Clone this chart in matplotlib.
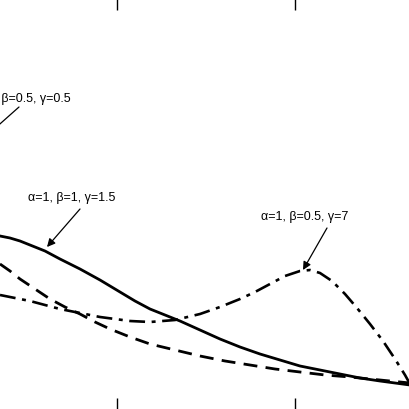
import matplotlib
matplotlib.use("Agg")
import matplotlib.pyplot as plt

solid_x = [0, 10, 20, 30, 45, 60, 80, 100, 120, 135, 150, 165, 180, 200, 220, 240, 260, 280, 300, 320, 340, 360, 380, 395, 410]
solid_y = [237, 239, 242, 246, 252, 260, 270, 281, 293, 302, 310, 316, 322, 331, 340, 348, 355, 361, 367, 371, 375, 379, 382, 384, 386]
dash_x = [0, 10, 20, 35, 50, 65, 80, 95, 110, 130, 150, 175, 200, 225, 250, 275, 300, 325, 350, 370, 390, 410]
dash_y = [265, 272, 280, 290, 300, 308, 315, 323, 330, 338, 345, 351, 357, 362, 366, 370, 373, 376, 378, 380, 382, 384]
dd_x = [0, 30, 60, 100, 130, 150, 175, 200, 220, 240, 255, 270, 285, 300, 310, 320, 332, 345, 357, 370, 383, 395, 405, 410]
dd_y = [296, 302, 310, 318, 322, 323, 321, 315, 308, 300, 293, 285, 277, 272, 271, 274, 282, 295, 309, 325, 342, 360, 376, 385]
tick_pos = [117, 295]

plt.rcParams['font.family'] = ['Liberation Sans', 'DejaVu Sans']
fig = plt.figure(figsize=(4.1, 4.1), dpi=100)
ax = fig.add_axes([0, 0, 1, 1])
ax.set_xlim(0, 410)
ax.set_ylim(410, 0)
ax.plot(solid_x, solid_y, color='black', lw=2.0, ls='-')
ax.plot(dash_x, dash_y, color='black', lw=2.0, ls=(0, (5, 3)))
ax.plot(dd_x, dd_y, color='black', lw=1.9, ls=(0, (6, 2.5, 1.5, 2.5)))

for s in ax.spines.values():
    s.set_visible(False)
ax.set_xticks(tick_pos)
ax.set_yticks([])
ax.tick_params(axis='x', direction='in', top=True, bottom=True,
               labelbottom=False, labeltop=False, length=8, width=1)

ap = dict(arrowstyle='-|>', color='black', lw=0.9, mutation_scale=12,
          shrinkA=0, shrinkB=0)
ax.text(72, 198, 'α=1, β=1, γ=1.5', ha='center', va='center', fontsize=9)
ax.annotate('', xy=(47, 248), xytext=(80, 210), arrowprops=ap)
ax.text(305, 217, 'α=1, β=0.5, γ=7', ha='center', va='center', fontsize=9)
ax.annotate('', xy=(303, 271), xytext=(327, 229), arrowprops=ap)
ax.text(71, 99, 'α=1, β=0.5, γ=0.5', ha='right', va='center', fontsize=9)
ax.annotate('', xy=(-8, 132), xytext=(19, 108),
            arrowprops=dict(arrowstyle='-', color='black', lw=0.9,
                            shrinkA=0, shrinkB=0), annotation_clip=False)

fig.savefig('out.png', dpi=100)
